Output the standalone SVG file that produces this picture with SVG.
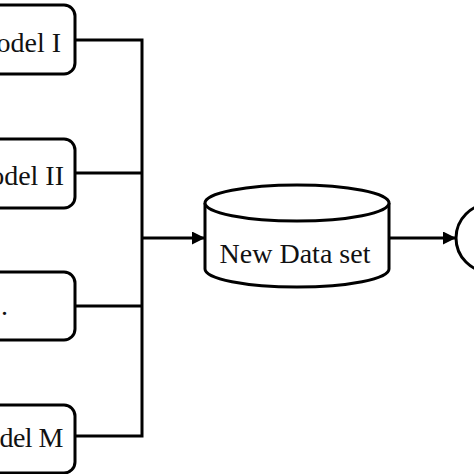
<svg xmlns="http://www.w3.org/2000/svg" width="474" height="474" viewBox="0 0 474 474">
<style>
.box{fill:#fff;stroke:#000;stroke-width:3}
.ln{fill:none;stroke:#000;stroke-width:3}
.t{font-family:"Liberation Serif","Times New Roman",serif;font-size:28px;fill:#111}
</style>
<defs>
<marker id="ah" markerUnits="userSpaceOnUse" markerWidth="13" markerHeight="13" refX="13" refY="6.5" orient="auto">
<path d="M0,0 L13,6.5 L0,13 Z" fill="#000"/>
</marker>
</defs>
<rect width="474" height="474" fill="#fff"/>
<g id="connectors">
<path class="ln" d="M75,40 H142 M75,173 H142 M75,306 H142 M75,436 H142 M142,38.5 V437.5"/>
<path class="ln" d="M142,238 H205" marker-end="url(#ah)"/>
<path class="ln" d="M389,238 H456" marker-end="url(#ah)"/>
</g>
<g id="model1">
<rect class="box" x="-100" y="5" width="175" height="69" rx="11"/>
<text class="t" x="61" y="52" text-anchor="end">Model I</text>
</g>
<g id="model2">
<rect class="box" x="-100" y="139" width="175" height="69" rx="11"/>
<text class="t" x="64" y="185" text-anchor="end">Model II</text>
</g>
<g id="model3">
<rect class="box" x="-100" y="272" width="175" height="68" rx="11"/>
<text class="t" x="8" y="315" text-anchor="end">...</text>
</g>
<g id="modelM">
<rect class="box" x="-100" y="405" width="175" height="68" rx="11"/>
<text class="t" x="63" y="447" text-anchor="end" letter-spacing="-0.5">Model M</text>
</g>
<g id="newdata">
<path class="box" d="M205,203 V269 A92,18 0 0 0 389,269 V203"/>
<ellipse class="box" cx="297" cy="203" rx="92" ry="18"/>
<text class="t" x="295" y="263" text-anchor="middle">New Data set</text>
</g>
<g id="output">
<circle class="box" cx="490" cy="238" r="34"/>
</g>
</svg>
